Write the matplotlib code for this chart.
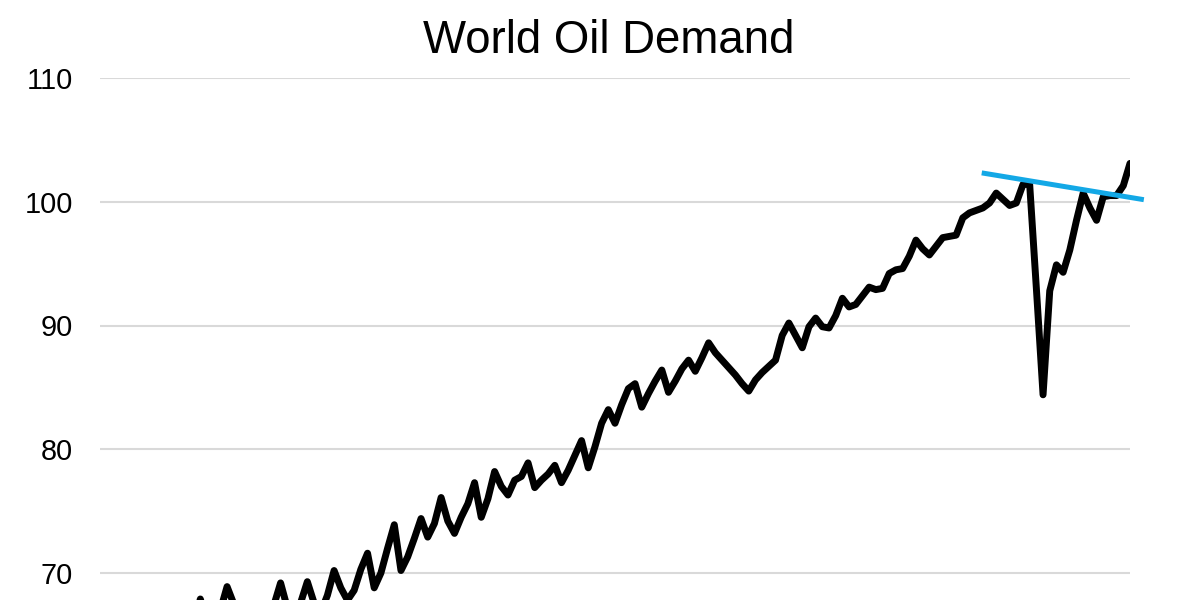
import matplotlib
matplotlib.use("Agg")
import matplotlib.pyplot as plt

# quarterly world oil demand (mb/d)
demand = [
    60.0, 59.6, 60.6, 61.4, 60.8, 60.6, 61.8, 62.6, 62.0, 62.2,
    63.4, 64.4, 63.8, 64.2, 65.6, 67.9, 66.0, 66.2, 67.0, 68.9,
    67.5, 66.4, 66.6, 67.2, 66.8, 66.4, 67.4, 69.2, 67.2, 67.0,
    67.6, 69.3, 67.6, 66.8, 68.2, 70.2, 68.8, 67.8, 68.6, 70.3,
    71.6, 68.8, 70.0, 72.0, 73.9, 70.2, 71.3, 72.8, 74.4, 72.9,
    74.0, 76.1, 74.2, 73.2, 74.5, 75.6, 77.3, 74.5, 76.0, 78.2,
    77.0, 76.3, 77.5, 77.8, 78.9, 76.9, 77.5, 78.0, 78.7, 77.3,
    78.3, 79.5, 80.7, 78.5, 80.2, 82.1, 83.2, 82.1, 83.6, 84.9,
    85.3, 83.4, 84.5, 85.5, 86.4, 84.6, 85.5, 86.5, 87.2, 86.3,
    87.4, 88.6, 87.8, 87.2, 86.6, 86.0, 85.3, 84.7, 85.6, 86.2,
    86.7, 87.2, 89.2, 90.2, 89.2, 88.2, 89.9, 90.6, 89.9, 89.8,
    90.8, 92.2, 91.5, 91.7, 92.4, 93.1, 92.9, 93.0, 94.2, 94.5,
    94.6, 95.6, 96.9, 96.2, 95.7, 96.4, 97.1, 97.2, 97.3, 98.7,
    99.1, 99.3, 99.5, 99.9, 100.7, 100.2, 99.7, 99.9, 101.4, 101.4,
    93.0, 84.4, 92.8, 94.9, 94.3, 96.1, 98.5, 100.7, 99.5, 98.5,
    100.4, 100.5, 100.5, 101.3, 103.1,
]
quarters = list(range(len(demand)))

# hand drawn resistance line (quarter index, mb/d)
trend_x = [132.2, 155.7]
trend_y = [102.3, 100.2]

y_ticks = [70, 80, 90, 100, 110]

plt.rcParams["font.family"] = ["Liberation Sans", "DejaVu Sans"]

fig = plt.figure(figsize=(12, 6), dpi=100)
# plot area runs off the bottom of the picture, like the cropped original
px_per_unit = 12.375
ylo, yhi = 60, 110
h_px = (yhi - ylo) * px_per_unit
top_px = 78
ax = fig.add_axes([100 / 1200, (600 - top_px - h_px) / 600, 1030 / 1200, h_px / 600])

ax.plot(quarters, demand, color="black", lw=5.0,
        solid_joinstyle="round", solid_capstyle="round", zorder=3)
ax.plot(trend_x, trend_y, color="#13a8e6", lw=3.6, clip_on=False, zorder=4)

ax.set_xlim(0, len(demand) - 1)
ax.set_ylim(ylo, yhi)
ax.set_yticks(y_ticks)
ax.set_xticks([])
ax.grid(axis="y", color="#d9d9d9", lw=1.5)
ax.set_axisbelow(True)
for s in ax.spines.values():
    s.set_visible(False)
ax.tick_params(axis="y", length=0, pad=19.5, labelsize=20.8, labelcolor="black")

fig.text(609 / 1200, 1 - 53 / 600, "World Oil Demand", ha="center", va="baseline",
         fontsize=32.9, color="black")

fig.savefig("out.png", dpi=100, facecolor="white")
